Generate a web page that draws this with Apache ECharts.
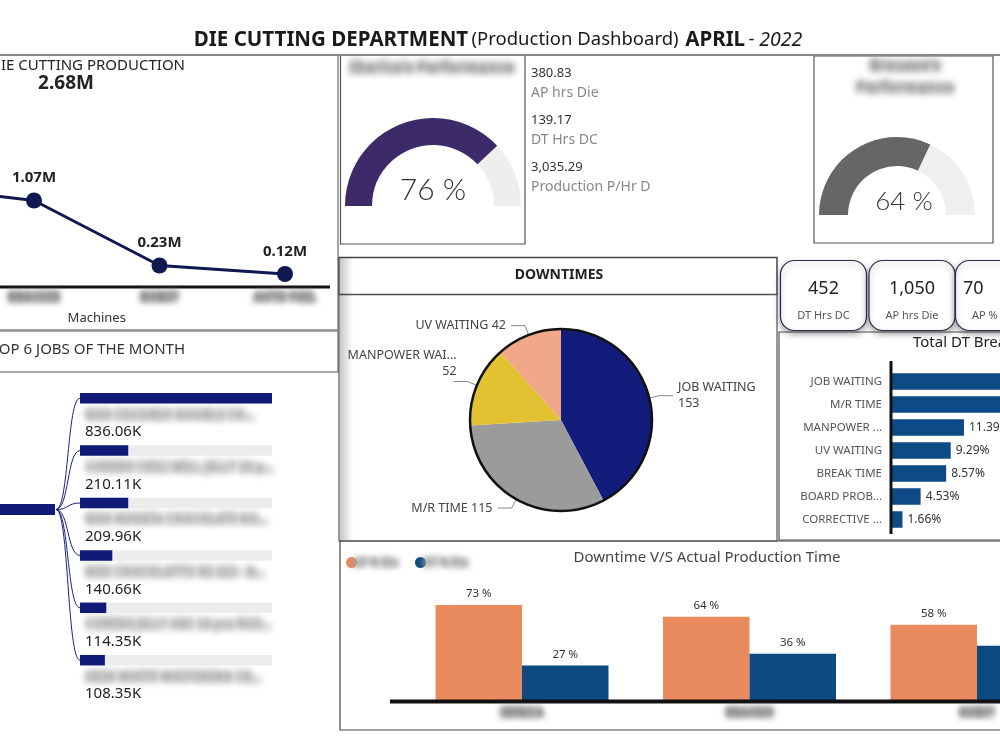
<!DOCTYPE html>
<html><head><meta charset="utf-8">
<script src="https://cdn.jsdelivr.net/npm/echarts@6/dist/echarts.min.js"></script>
<style>html,body{margin:0;padding:0;background:#fff}#c{width:1000px;height:750px}</style>
</head><body><div id="c"></div>
<script>
// ---------- data ----------
const machines = ['IBERICA', 'BRAUSSE', 'BOBST', 'AUTO FOIL'];
const machineProduction = [1.26, 1.07, 0.23, 0.12]; // millions
const totalProduction = '2.68M';

const jobNames = ['BOX COCONIO DOUBLE CH...', 'CUREDE CHILI MILL JELLY 24 p...', 'BOX NOVATA CHOCOLATE RO...', 'BOX CHOCOLATTO RS 222 - B...', 'CUREDE JELLY ABC 24 pcs RUS...', 'SKIN WHITE WHITENING CR...'];
const jobValues = [836.06, 210.11, 209.96, 140.66, 114.35, 108.35]; // thousands

const ibericaPerf = 76;
const braussePerf = 64;
const kpiValues = ['380.83', '139.17', '3,035.29'];
const kpiLabels = ['AP hrs Die', 'DT Hrs DC', 'Production P/Hr D'];

const downtimeNames = ['JOB WAITING', 'M/R TIME', 'MANPOWER WAITING', 'UV WAITING'];
const downtimeValues = [153, 115, 52, 42];

const cardValues = ['452', '1,050', '70'];
const cardLabels = ['DT Hrs DC', 'AP hrs Die', 'AP %'];

const dtCats = ['JOB WAITING', 'M/R TIME', 'MANPOWER ...', 'UV WAITING', 'BREAK TIME', 'BOARD PROB...', 'CORRECTIVE ...'];
const dtPct = [33.85, 25.44, 11.39, 9.29, 8.57, 4.53, 1.66];

const prodMachines = ['IBERICA', 'BRAUSSE', 'BOBST'];
const apPct = [73, 64, 58];
const dtPctMachine = [27, 36, 42];
const legendNames = ['AP % Die', 'DT % Die'];

// ---------- helpers ----------
const F = "'Noto Sans', 'Open Sans', sans-serif";
const OFF = 3000; // blurred text: glyphs drawn off-canvas, only their soft shadow lands in place
function blurStyle(shade, blur) {
  return {fill: '#000', stroke: '#000', lineWidth: 1.6, fontWeight: 'bold',
    textShadowColor: shade || 'rgba(100,100,100,1)', textShadowBlur: blur || 6, textShadowOffsetX: OFF};
}
function T(x, y, text, o) {
  return {type: 'text', x: x, y: y, silent: true, z: 10,
    style: Object.assign({text: text, fill: '#333', fontSize: 13, fontFamily: F, align: 'left', verticalAlign: 'middle'}, o || {})};
}
function BT(x, y, text, o, shade, blur) {
  return T(x - OFF, y, text, Object.assign({}, o || {}, blurStyle(shade, blur)));
}
function R(x, y, w, h, o) {
  return {type: 'rect', silent: true, shape: Object.assign({x: x, y: y, width: w, height: h}, (o && o.r) ? {r: o.r} : {}),
    style: Object.assign({fill: 'none', stroke: '#777', lineWidth: 1}, (o && o.style) || {}), z: (o && o.z) || 0};
}
function L(x1, y1, x2, y2, color, w) {
  return {type: 'line', silent: true, shape: {x1: x1, y1: y1, x2: x2, y2: y2}, style: {stroke: color, lineWidth: w}, z: 5};
}
const shadowGrad = new echarts.graphic.LinearGradient(0, 0, 1, 0, [{offset: 0, color: 'rgba(0,0,0,0.22)'}, {offset: 1, color: 'rgba(0,0,0,0)'}]);

const graphics = [];
// title
graphics.push({type: 'text', x: 498, y: 40, silent: true, style: {
  text: '{b|DIE CUTTING DEPARTMENT} {r|(Production Dashboard)}  {b|APRIL} {r|- }{i|2022}',
  align: 'center', verticalAlign: 'middle', fill: '#222',
  rich: {
    b: {fontSize: 20.5, fontWeight: 'bold', fontFamily: F, fill: '#1a1a1a'},
    r: {fontSize: 18.5, fontFamily: F, fill: '#1a1a1a'},
    i: {fontSize: 19.5, fontStyle: 'italic', fontFamily: F, fill: '#1a1a1a'}
  }}});
graphics.push(L(0, 55, 1000, 55, '#888', 2));

// panel 1 - production line
graphics.push(R(-1, 55, 339, 275, {style: {stroke: '#8a8a8a', lineWidth: 1.5}}));
graphics.push(T(185, 66, 'DIE CUTTING PRODUCTION', {align: 'right', fontSize: 15, fill: '#222'}));
graphics.push(T(66, 84, totalProduction, {align: 'center', fontSize: 19, fontWeight: 'bold', fill: '#222'}));
graphics.push(L(0, 287, 330, 287, '#111', 3));

// panel 2 - top jobs
graphics.push(R(-1, 331, 339, 41, {style: {stroke: '#8a8a8a', lineWidth: 1.5}}));
graphics.push(T(185, 350, 'TOP 6 JOBS OF THE MONTH', {align: 'right', fontSize: 15, fill: '#333'}));
graphics.push(R(0, 504, 55, 11, {style: {fill: '#121a78', stroke: 'none'}, z: 3}));

// gauge boxes
graphics.push(R(340.5, 55.5, 184.5, 188.5, {style: {stroke: '#555', lineWidth: 1.2}}));
graphics.push(BT(432, 68, "Iberica's Performance", {align: 'center', fontSize: 15}, 'rgba(150,150,150,1)', 7));
graphics.push(R(814, 56, 179, 187, {style: {stroke: '#555', lineWidth: 1.2}}));
graphics.push(BT(905, 66, "Brausse's", {align: 'center', fontSize: 15}, 'rgba(150,150,150,1)', 7));
graphics.push(BT(905, 88, 'Performance', {align: 'center', fontSize: 15}, 'rgba(150,150,150,1)', 7));
// kpi texts
for (let i = 0; i < kpiValues.length; i++) {
  graphics.push(T(531, 73 + i * 47, kpiValues[i], {fontSize: 13, fill: '#333'}));
  graphics.push(T(531, 93 + i * 47, kpiLabels[i], {fontSize: 14, fill: '#888'}));
}

// downtimes
graphics.push(R(339, 257.5, 438, 37, {style: {stroke: '#444', lineWidth: 1.5}}));
graphics.push(T(559, 275, 'DOWNTIMES', {align: 'center', fontSize: 14, fontWeight: 'bold', fill: '#222'}));
graphics.push(R(339, 294.5, 438, 246.5, {style: {stroke: '#555', lineWidth: 1.2}}));
graphics.push(R(340, 258, 13, 283, {style: {fill: shadowGrad, stroke: 'none'}}));
graphics.push({type: 'circle', silent: true, shape: {cx: 561, cy: 420, r: 91}, style: {fill: 'none', stroke: '#111', lineWidth: 2.5}, z: 100});

// cards
const cardX = [780.5, 869, 955.5];
for (let i = 0; i < cardValues.length; i++) {
  graphics.push(R(cardX[i], 260.5, i === 2 ? 90 : 86, 70, {r: 14, style: {fill: '#fff', stroke: '#2b2b4b', lineWidth: 1.2, shadowColor: 'rgba(0,0,0,0.35)', shadowBlur: 6, shadowOffsetY: 3}, z: 1}));
  if (i < 2) {
    graphics.push(T(cardX[i] + 43, 289, cardValues[i], {align: 'center', fontSize: 18, fill: '#222'}));
    graphics.push(T(cardX[i] + 43, 316, cardLabels[i], {align: 'center', fontSize: 11, fill: '#555'}));
  } else {
    graphics.push(T(963, 289, cardValues[i], {fontSize: 18, fill: '#222'}));
    graphics.push(T(972, 316, cardLabels[i], {fontSize: 11, fill: '#555'}));
  }
}

// DT breakdown
graphics.push(R(779, 332, 230, 208, {style: {stroke: '#555', lineWidth: 1.2}}));
graphics.push(T(913, 343, 'Total DT Breakdown', {fontSize: 15, fill: '#222'}));
graphics.push(L(891, 361, 891, 534, '#111', 3));

// bottom chart
graphics.push(R(340, 541, 670, 189, {style: {stroke: '#444', lineWidth: 1.2}}));
graphics.push(T(707, 558, 'Downtime V/S Actual Production Time', {align: 'center', fontSize: 15, fill: '#444'}));
graphics.push(L(390, 701.5, 1000, 701.5, '#111', 4));
graphics.push(BT(376, 563, legendNames[0], {fontSize: 10, align: 'center'}, 'rgba(160,160,160,1)', 6));
graphics.push(BT(446, 563, legendNames[1], {fontSize: 10, align: 'center'}, 'rgba(160,160,160,1)', 6));

// blurred category labels drawn through the axis scale
function catLabelSeries(xi, yi, cats, dy, size) {
  return {type: 'custom', xAxisIndex: xi, yAxisIndex: yi, data: cats.map((c, i) => [i, 0]), z: 5, silent: true,
    renderItem: function (params, api) {
      const p = api.coord([api.value(0), 0]);
      return {type: 'text', x: p[0] - OFF, y: p[1] + dy,
        style: Object.assign({text: cats[api.value(0)], fontSize: size, fontFamily: F, align: 'center', verticalAlign: 'middle'},
          blurStyle('rgba(125,125,125,1)', 6))};
    }};
}

// ---------- option ----------
const chart = echarts.init(document.getElementById('c'));
const option = {
  animation: false,
  backgroundColor: '#fff',
  textStyle: {fontFamily: F},
  graphic: graphics,
  legend: {
    data: legendNames, left: 346, top: 557, icon: 'circle', itemWidth: 11, itemHeight: 11, itemGap: 53, padding: 0,
    selectedMode: false, formatter: () => '', textStyle: {fontSize: 1, lineHeight: 1}
  },
  grid: [
    {left: -154.25, top: 128.5, width: 502, height: 154.8, outerBoundsMode: 'none', containLabel: false},
    {left: 80, top: 372, width: 192, height: 314.4, outerBoundsMode: 'none', containLabel: false},
    {left: 892, top: 370, width: 252.8, height: 161, outerBoundsMode: 'none', containLabel: false},
    {left: 408.25, top: 569.5, width: 682.5, height: 131.5, outerBoundsMode: 'none', containLabel: false}
  ],
  xAxis: [
    {type: 'category', gridIndex: 0, data: machines, axisLine: {show: false}, axisTick: {show: false}, axisLabel: {show: false},
     name: 'Machines', nameLocation: 'middle', nameGap: 28, nameTextStyle: {fontSize: 13, color: '#333', fontFamily: F}},
    {type: 'value', gridIndex: 1, min: 0, max: 836.06, show: false},
    {type: 'value', gridIndex: 2, min: 0, max: 40, show: false},
    {type: 'category', gridIndex: 3, data: prodMachines, axisLine: {show: false}, axisTick: {show: false}, axisLabel: {show: false}}
  ],
  yAxis: [
    {type: 'value', gridIndex: 0, min: 0, max: 2, show: false},
    {type: 'category', gridIndex: 1, data: jobNames, inverse: true, show: false},
    {type: 'category', gridIndex: 2, data: dtCats, inverse: true, axisLine: {show: false}, axisTick: {show: false},
     axisLabel: {margin: 10, fontSize: 11.5, color: '#555', fontFamily: F}},
    {type: 'value', gridIndex: 3, min: 0, max: 100, show: false}
  ],
  series: [
    {type: 'line', xAxisIndex: 0, yAxisIndex: 0, data: machineProduction, color: '#0f1850',
     lineStyle: {width: 3, color: '#0f1850'}, symbol: 'circle', symbolSize: 16, itemStyle: {color: '#0f1850'},
     label: {show: true, position: 'top', distance: 7, fontSize: 15, fontWeight: 'bold', color: '#222', fontFamily: F,
       formatter: p => p.value.toFixed(2) + 'M'}},
    catLabelSeries(0, 0, machines, 14, 11.5),
    {type: 'bar', xAxisIndex: 1, yAxisIndex: 1, data: jobValues, barWidth: 10.5, itemStyle: {color: '#121a78'},
     showBackground: true, backgroundStyle: {color: '#ececec'}},
    {type: 'custom', xAxisIndex: 1, yAxisIndex: 1, data: jobValues.map((v, i) => [v, i]), z: 1,
     renderItem: function (params, api) {
       const idx = api.value(1);
       const p = api.coord([0, idx]);
       const v = api.value(0);
       return {type: 'group', children: [
         {type: 'bezierCurve', shape: {x1: 56, y1: 509.5, x2: p[0], y2: p[1], cpx1: 69, cpy1: 509.5, cpx2: 67, cpy2: p[1]},
          style: {stroke: '#1a2380', lineWidth: 1, fill: 'none'}},
         {type: 'text', x: p[0] + 6 - OFF, y: p[1] + 17,
          style: Object.assign({text: jobNames[idx], fontSize: 12, fontFamily: F, verticalAlign: 'middle', align: 'left'}, blurStyle('rgba(170,170,170,1)', 7))},
         {type: 'text', x: p[0] + 5, y: p[1] + 34, style: {text: v.toFixed(2) + 'K', fontSize: 15, fontFamily: F, fill: '#222', verticalAlign: 'middle', align: 'left'}}
       ]};
     }},
    {type: 'bar', xAxisIndex: 2, yAxisIndex: 2, data: dtPct, barWidth: 16.5, itemStyle: {color: '#0e4a86'},
     label: {show: true, position: 'right', distance: 5, fontSize: 12, color: '#333', fontFamily: F,
       formatter: p => p.value.toFixed(2) + '%'}},
    {type: 'bar', name: legendNames[0], xAxisIndex: 3, yAxisIndex: 3, data: apPct, barWidth: 86.5, barGap: '0%',
     itemStyle: {color: '#e98a5f'}, label: {show: true, position: 'top', distance: 5, fontSize: 11.5, color: '#333', formatter: '{c} %'}},
    {type: 'bar', name: legendNames[1], xAxisIndex: 3, yAxisIndex: 3, data: dtPctMachine, barWidth: 86.5, barGap: '0%',
     itemStyle: {color: '#0d4a82'}, label: {show: true, position: 'top', distance: 5, fontSize: 11.5, color: '#333', formatter: '{c} %'}},
    catLabelSeries(3, 3, prodMachines, 12, 10.5),
    {type: 'pie', center: [561, 420], radius: 91, startAngle: 90, clockwise: true,
     color: ['#121c7a', '#9b9b9b', '#e2c232', '#f0a888'],
     data: downtimeNames.map((n, i) => ({name: n, value: downtimeValues[i]})),
     label: {show: true, fontSize: 12.5, color: '#444', fontFamily: F, lineHeight: 16,
       formatter: p => (p.dataIndex === 0 || p.dataIndex === 2) ? (p.dataIndex === 2 ? 'MANPOWER WAI...' : p.name) + '\n' + p.value : p.name + ' ' + p.value},
     labelLine: {length: 10, length2: 14, lineStyle: {color: '#888', width: 1}},
     labelLayout: function (params) { return params.dataIndex === 2 ? {dy: -18, dx: 8} : {}; },
     itemStyle: {borderWidth: 0}},
    {type: 'gauge', center: [433, 206], radius: 88, startAngle: 180, endAngle: 0, min: 0, max: 100,
     progress: {show: true, width: 27, itemStyle: {color: '#3c2a69'}},
     axisLine: {lineStyle: {width: 27, color: [[1, '#eeeeee']]}},
     pointer: {show: false}, anchor: {show: false}, axisTick: {show: false}, splitLine: {show: false}, axisLabel: {show: false}, title: {show: false},
     detail: {formatter: '{value} %', offsetCenter: [0, -16], fontSize: 30, fontWeight: 300, fontFamily: "'Lato', 'Open Sans', sans-serif", color: '#333'},
     data: [{value: ibericaPerf}]},
    {type: 'gauge', center: [897, 215], radius: 78, startAngle: 180, endAngle: 0, min: 0, max: 100,
     progress: {show: true, width: 29, itemStyle: {color: '#666666'}},
     axisLine: {lineStyle: {width: 29, color: [[1, '#efefef']]}},
     pointer: {show: false}, anchor: {show: false}, axisTick: {show: false}, splitLine: {show: false}, axisLabel: {show: false}, title: {show: false},
     detail: {formatter: '{value} %', offsetCenter: [7, -13], fontSize: 26, fontWeight: 300, fontFamily: "'Lato', 'Open Sans', sans-serif", color: '#333'},
     data: [{value: braussePerf}]}
  ]
};
chart.setOption(option);
</script></body></html>
